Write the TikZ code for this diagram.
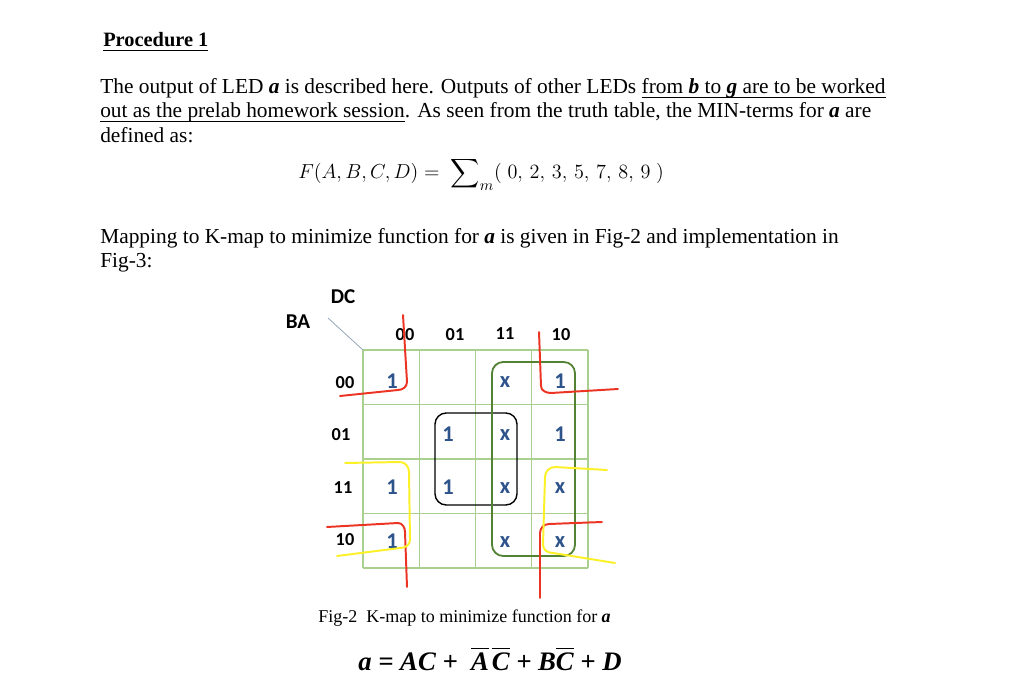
\documentclass[tikz,border=0pt]{standalone}
\usepackage{amsmath}
\usepackage{exscale}
\usepackage{fontspec}
\setmainfont{Liberation Serif}
\newfontfamily\kmapfont{Carlito}
\usetikzlibrary{positioning}
\definecolor{GridGreen}{RGB}{169,208,142}
\definecolor{LoopGreen}{RGB}{84,130,53}
\definecolor{CellBlue}{RGB}{46,84,140}
\definecolor{PenRed}{RGB}{236,52,36}
\definecolor{PenYellow}{RGB}{252,240,40}
\definecolor{DiagGrey}{RGB}{150,170,190}
\newcommand{\ulpart}[1]{\setbox0=\hbox{#1}\rlap{\rule[-3pt]{\wd0}{0.7pt}}\box0}
\newcommand{\barvar}[1]{$\overline{\mbox{#1}}$}

\begin{document}
\begin{tikzpicture}[
  x=0.025cm, y=-0.025cm,
  bodytext/.style={anchor=base west, inner sep=0pt, font=\fontsize{15.2}{17}\selectfont},
  maplabel/.style={inner sep=0pt, font=\kmapfont\bfseries\fontsize{13}{15}\selectfont},
  cellval/.style={inner sep=0pt, text=CellBlue, font=\kmapfont\bfseries\fontsize{16}{18}\selectfont},
  gridline/.style={draw=GridGreen, line width=0.8pt},
  redpen/.style={draw=PenRed, line width=1.4pt, line cap=round},
  yellowpen/.style={draw=PenYellow, line width=1.4pt, line cap=round}
]
\useasboundingbox (0,0) rectangle (1024,688);

% heading and text
\node[bodytext, font=\bfseries\fontsize{14.5}{16}\selectfont] (title) at (103,47) {\ulpart{Procedure 1}};
\node[bodytext] (line1) at (100,94) {The output of LED \textbf{\textit{a}} is described here. Outputs of other LEDs \ulpart{from \textbf{\textit{b}} to \textbf{\textit{g}} are to be worked}};
\node[bodytext] (line2) at (100,118) {\ulpart{out as the prelab homework session}. As seen from the truth table, the MIN-terms for \textbf{\textit{a}} are};
\node[bodytext] (line3) at (100,143) {defined as:};
\node[bodytext, font=\fontsize{15.8}{19}\selectfont] (minterms) at (298,179)
  {$\displaystyle F(A,B,C,D)=\;\sum\nolimits_{m}(\;0,\,2,\,3,\,5,\,7,\,8,\,9\;)$};
\node[bodytext] (line4) at (100,244) {Mapping to K-map to minimize function for \textbf{\textit{a}} is given in Fig-2 and implementation in};
\node[bodytext] (line5) at (100,268) {Fig-3:};

% K-map grid
\foreach \gx in {363,419.25,475.5,531.75,588}
  \draw[gridline] (\gx,350) -- (\gx,568);
\foreach \gy in {350,404.5,459,513.5,568}
  \draw[gridline] (363,\gy) -- (588,\gy);
\coordinate (corner) at (363,350);
\draw[DiagGrey, line width=0.6pt] (328,318) -- (corner);

% variable labels
\node[maplabel, font=\kmapfont\bfseries\fontsize{15}{17}\selectfont] (dc) at (343,297) {DC};
\node[maplabel, font=\kmapfont\bfseries\fontsize{15}{17}\selectfont] (ba) at (298,322) {BA};
\node[maplabel] (c00) at (405,335) {00};
\node[maplabel] (c01) at (455,335) {01};
\node[maplabel] (c11) at (505,334) {11};
\node[maplabel] (c10) at (561,335) {10};
\node[maplabel] (r00) at (345,383) {00};
\node[maplabel] (r01) at (341,435) {01};
\node[maplabel] (r11) at (343,488) {11};
\node[maplabel] (r10) at (345,540) {10};

% cell values
\node[cellval] (m00) at (392,381) {1};
\node[cellval] (m02) at (505,382) {x};
\node[cellval] (m03) at (560,381) {1};
\node[cellval] (m11) at (448,434) {1};
\node[cellval] (m12) at (505,435) {x};
\node[cellval] (m13) at (560,434) {1};
\node[cellval] (m20) at (392,487) {1};
\node[cellval] (m21) at (448,487) {1};
\node[cellval] (m22) at (505,488) {x};
\node[cellval] (m23) at (560,488) {x};
\node[cellval] (m30) at (392,541) {1};
\node[cellval] (m32) at (505,542) {x};
\node[cellval] (m33) at (560,542) {x};

% groups
\draw[black, line width=1pt, rounded corners=8pt] (435,413) rectangle (517,505);
\draw[LoopGreen, line width=1.3pt, rounded corners=8pt] (492,362) rectangle (575,556);

% hand drawn corner groups
\draw[redpen] (403,315) -- (407,382) to[out=-90,in=0] (398,390) -- (340,396);
\draw[redpen] (539,332) -- (541,386) to[out=-90,in=180] (551,393) -- (618,389);
\draw[redpen] (327,527) -- (398,523) to[out=0,in=90] (405,532) -- (407,587);
\draw[redpen] (602,522) -- (549,524) to[out=180,in=90] (540,533) -- (540,598);
\draw[yellowpen] (345,463) -- (400,462) to[out=0,in=90] (409,472) -- (410,540) to[out=-90,in=0] (400,548) -- (337,556);
\draw[yellowpen] (607,470) -- (555,467) to[out=180,in=90] (545,477) -- (543,545) to[out=-90,in=180] (553,553) -- (615,563);

% caption and result
\node[bodytext, font=\fontsize{12.8}{14}\selectfont] (caption) at (318,622) {Fig-2\ \ K-map to minimize function for \textbf{\textit{a}}};
\node[bodytext, font=\bfseries\itshape\fontsize{19}{22}\selectfont] (result) at (358,670)
  {a = AC +\ \ \barvar{A}\kern2pt\barvar{C} + B\barvar{C} + D};
\end{tikzpicture}
\end{document}
